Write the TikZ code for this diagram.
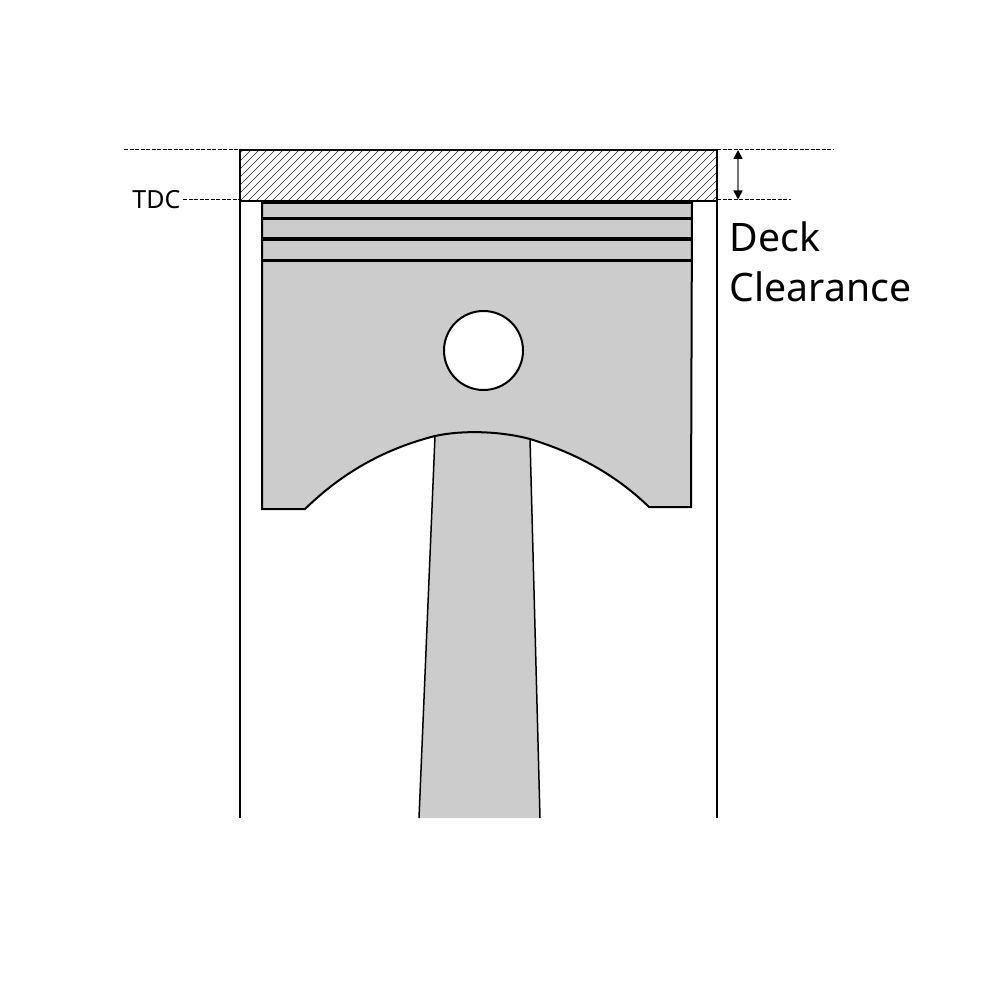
\documentclass[tikz,border=0pt]{standalone}
\usepackage{fontspec}
\setmainfont{Noto Sans}
\usetikzlibrary{arrows.meta}
\definecolor{partgray}{HTML}{CCCCCC}
\tikzset{
  outline/.style={draw=black,line width=1pt},
  thinout/.style={draw=black,line width=0.75pt},
  ring/.style={draw=black,line width=1.5pt},
  guide/.style={draw=black,line width=0.4pt,dash pattern=on 2pt off 0.75pt},
  hatchline/.style={draw=black!85,line width=0.3pt},
  dim/.style={draw=black!55,line width=0.8pt,{Triangle[black,length=4.5pt,width=4.5pt]}-{Triangle[black,length=4.5pt,width=4.5pt]}},
  lbl/.style={inner sep=0pt,anchor=west,text=black}
}
\begin{document}
\begin{tikzpicture}[x=0.5pt,y=-0.5pt]
\useasboundingbox (0,0) rectangle (1000,1000);
\fill[white] (0,0) rectangle (1000,1000);
% rod
\fill[partgray] (435,436) -- (480,420) -- (530,439) -- (540,818) -- (419,818) -- cycle;
\draw[thinout] (435,436) -- (419,818);
\draw[thinout] (530,439) -- (540,818);
% piston
\path[outline,fill=partgray] (262,202) -- (692,202) -- (691,507) -- (649,507)
  .. controls (613,472) and (572,452) .. (530,439)
  .. controls (500,431) and (462,430) .. (435,436)
  .. controls (388,448) and (345,470) .. (305,509)
  -- (262,509) -- cycle;
\draw[ring] (262,203) -- (692,203);
\draw[ring] (262,219) -- (692,219);
\draw[ring] (262,239) -- (692,239);
\draw[ring] (262,260) -- (692,260);
\draw[outline,fill=white] (483.5,350.5) circle[radius=39.5];
% head hatching
\begin{scope}
\clip (240,150) rectangle (717,201);
\foreach \k in {192,200,...,720}
  \draw[hatchline] (\k,201) -- ++(51,-51);
\end{scope}
\draw[outline] (240,818) -- (240,150) -- (717,150) -- (717,818);
\draw[outline] (240,201) -- (717,201);
% guides
\node[lbl,font=\fontsize{12.5pt}{14pt}\selectfont] (tdc) at (132,200) {TDC};
\coordinate (hl) at (240,149.5);
\coordinate (hla) at (124,149.5);
\coordinate (hr) at (717,149.5);
\coordinate (hrb) at (833,149.5);
\coordinate (tl) at (240,199.5);
\coordinate (tr) at (717,199.5);
\coordinate (trb) at (791,199.5);
\coordinate (tdcend) at (183,199.5);
\draw[guide] (hla) -- (hl);
\draw[guide] (hr) -- (hrb);
\draw[guide] (tdcend) -- (tl);
\draw[guide] (tr) -- (trb);
\coordinate (da) at (738,150);
\coordinate (db) at (738,199.5);
\draw[dim] (da) -- (db);
\node[lbl,font=\fontsize{19.6pt}{24pt}\selectfont] (deck) at (729.5,237) {Deck};
\node[lbl,font=\fontsize{19.6pt}{24pt}\selectfont] (clear) at (729.5,287) {Clearance};
\end{tikzpicture}
\end{document}
